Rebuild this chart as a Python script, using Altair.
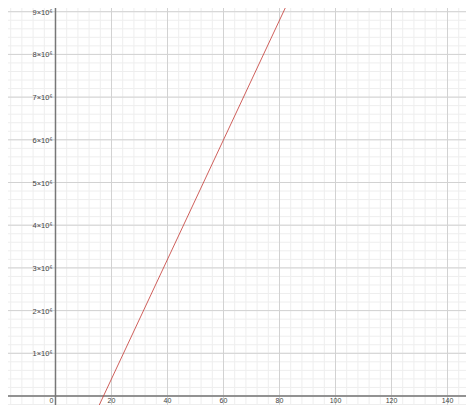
import altair as alt
import pandas as pd

# line data
line_x = [10, 90]
line_y = [-1.0e6, 10.2e6]

# grid / tick values
x_minor = list(range(-16, 148, 4))
x_major = [-20, 0, 20, 40, 60, 80, 100, 120, 140]
x_labels = ["-20", "0", "20", "40", "60", "80", "100", "120", "140"]
y_minor = [i * 2e5 for i in range(-1, 46)]
y_major = [i * 1e6 for i in range(0, 10)]
y_labels = ["", "1×10⁶", "2×10⁶", "3×10⁶", "4×10⁶", "5×10⁶", "6×10⁶", "7×10⁶", "8×10⁶", "9×10⁶"]

XD = [-16.96, 146.6]
YD = [-0.211e6, 9.087e6]

xs = alt.Scale(domain=XD, nice=False, zero=False)
ys = alt.Scale(domain=YD, nice=False, zero=False)
noax = None

line_df = pd.DataFrame({"x": line_x, "y": line_y})
xmin_df = pd.DataFrame({"v": x_minor})
xmaj_df = pd.DataFrame({"v": x_major, "t": x_labels})
ymin_df = pd.DataFrame({"v": y_minor})
ymaj_df = pd.DataFrame({"v": y_major, "t": y_labels})

vminor = alt.Chart(xmin_df).mark_rule(color="#eeeeee", strokeWidth=1, clip=True).encode(
    x=alt.X("v:Q", scale=xs, axis=noax))
hminor = alt.Chart(ymin_df).mark_rule(color="#eeeeee", strokeWidth=1, clip=True).encode(
    y=alt.Y("v:Q", scale=ys, axis=noax))
vmajor = alt.Chart(xmaj_df).mark_rule(color="#d2d2d2", strokeWidth=1, clip=True).encode(
    x=alt.X("v:Q", scale=xs, axis=noax))
hmajor = alt.Chart(ymaj_df).mark_rule(color="#d2d2d2", strokeWidth=1, clip=True).encode(
    y=alt.Y("v:Q", scale=ys, axis=noax))

zero_df = pd.DataFrame({"v": [0]})
xaxis = alt.Chart(zero_df).mark_rule(color="#777777", strokeWidth=1.5).encode(
    y=alt.Y("v:Q", scale=ys, axis=noax))
yaxis = alt.Chart(zero_df).mark_rule(color="#777777", strokeWidth=1.5).encode(
    x=alt.X("v:Q", scale=xs, axis=noax))

line = alt.Chart(line_df).mark_line(color="#c74440", strokeWidth=1, opacity=0.85, clip=True).encode(
    x=alt.X("x:Q", scale=xs, axis=noax),
    y=alt.Y("y:Q", scale=ys, axis=noax))

xlab_df = xmaj_df[xmaj_df["v"] != 0].copy()
xlab_df["y0"] = 0
xlab = alt.Chart(xlab_df).mark_text(
    fontSize=7, font="Liberation Sans", color="#444444", baseline="top", dy=1.5
).encode(
    x=alt.X("v:Q", scale=xs, axis=noax),
    y=alt.Y("y0:Q", scale=ys, axis=noax),
    text="t:N")

orig_df = pd.DataFrame({"x": [0], "y": [0], "t": ["0"]})
origlab = alt.Chart(orig_df).mark_text(
    fontSize=7, font="Liberation Sans", color="#444444", baseline="top", align="right", dx=-2, dy=1.5
).encode(
    x=alt.X("x:Q", scale=xs, axis=noax),
    y=alt.Y("y:Q", scale=ys, axis=noax),
    text="t:N")

ylab_df = ymaj_df[ymaj_df["t"] != ""].copy()
ylab_df["x0"] = 0
ylab = alt.Chart(ylab_df).mark_text(
    fontSize=7.5, font="Liberation Sans", color="#444444", baseline="middle", align="right", dx=-3, dy=1
).encode(
    x=alt.X("x0:Q", scale=xs, axis=noax),
    y=alt.Y("v:Q", scale=ys, axis=noax),
    text="t:N")

chart = alt.layer(vminor, hminor, vmajor, hmajor, xaxis, yaxis, line, xlab, origlab, ylab).properties(
    width=458, height=397, padding=0,
    autosize=alt.AutoSizeParams(type="none")
).configure_view(stroke=None)

chart.save("out.html", embed_options={"renderer": "svg", "actions": False})
